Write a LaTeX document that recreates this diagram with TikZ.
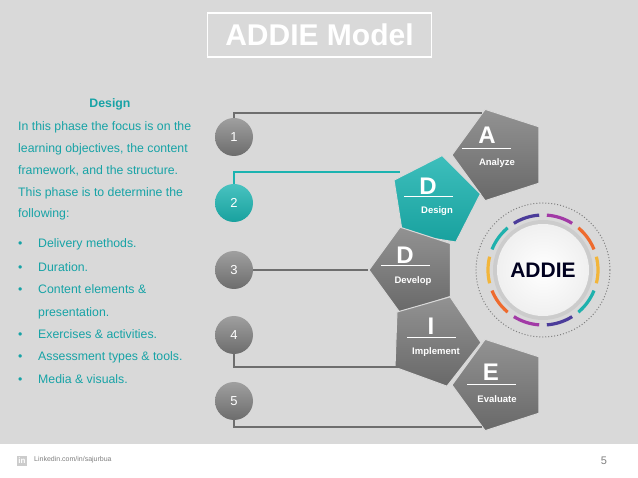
\documentclass[tikz,border=0pt]{standalone}
\usepackage{fontspec}
\setmainfont{Liberation Sans}
\usetikzlibrary{shapes.geometric}
\definecolor{bg}{HTML}{D9D9D9}
\definecolor{teal1}{HTML}{1BB3B0}
\definecolor{txtteal}{HTML}{17A3A6}
\definecolor{pg}{HTML}{7F7F7F}
\definecolor{ln}{HTML}{6E6E6E}
\definecolor{ringY}{HTML}{F2B53A}
\definecolor{ringO}{HTML}{EE6B2E}
\definecolor{ringM}{HTML}{A23AA6}
\definecolor{ringP}{HTML}{4B3C9A}
\definecolor{ringT}{HTML}{1FB1AD}
\tikzset{
 pent/.style={regular polygon, regular polygon sides=5, inner sep=0pt, minimum size=#1, draw=bg, line width=1pt, top color=pg!85, bottom color=ln!95!black},
 num/.style={circle, minimum size=38pt, inner sep=0pt, text=white, font=\fontsize{13}{13}\selectfont, top color=gray!75, bottom color=gray!85!black},
 conn/.style={draw=ln, line width=1.2pt},
 big/.style={text=white, font=\bfseries\fontsize{24}{24}\selectfont},
 lbl/.style={text=white, font=\bfseries\fontsize{9.5}{10}\selectfont},
 bar/.style={draw=white, line width=1pt},
 para/.style={anchor=west, text=txtteal, font=\fontsize{12.3}{14}\selectfont, inner sep=0pt, text height=9pt, text depth=3pt},
}
\begin{document}
\begin{tikzpicture}[x=1pt,y=-1pt]
\fill[bg] (0,0) rectangle (638,478);
\useasboundingbox (0,0) rectangle (638,478);
\fill[white] (0,444) rectangle (638,478);
% title
\node[draw=white, line width=1.2pt, minimum width=224pt, minimum height=44pt, text=white, font=\bfseries\fontsize{30}{30}\selectfont] (title) at (319.5,35) {ADDIE Model};
% left text
\node[text=txtteal, font=\bfseries\fontsize{12.3}{14}\selectfont] (hd) at (110,104) {Design};
\node[para] (p1) at (18,128) {In this phase the focus is on the};
\node[para] (p2) at (18,150) {learning objectives, the content};
\node[para] (p3) at (18,172) {framework, and the structure.};
\node[para] (p4) at (18,194) {This phase is to determine the};
\node[para] (p5) at (18,215) {following:};
\foreach \y/\t [count=\i] in {245/Delivery methods.,269/Duration.,291/Content elements \&,336/Exercises \& activities.,358/Assessment types \& tools.,381/Media \& visuals.}{
  \node[para] (b\i) at (18,\y) {•};
  \node[para] (bt\i) at (38,\y) {\t};
}
\node[para] (btx) at (38,314) {presentation.};
% connectors
\coordinate (a1) at (482,113);
\coordinate (a2) at (400,172);
\coordinate (a4) at (400,367);
\coordinate (a5) at (482,427);
% pentagons
\node[pent=96pt, shape border rotate=90] (A) at (500,155) {};
\node[pent=92pt, shape border rotate=-9, draw=bg, top color=teal1!85!white, bottom color=teal1!90!black] (D1) at (435,201) {};
\node[pent=90pt, shape border rotate=90] (D2) at (414,270) {};
\node[pent=94pt, shape border rotate=-20] (I) at (434,341) {};
\node[pent=96pt, shape border rotate=90] (E) at (500,385) {};
% numbers
\node[num] (n1) at (234,137) {1};
\node[num, top color=teal1!80!white, bottom color=teal1!90!black] (n2) at (234,203) {2};
\node[num] (n3) at (234,270) {3};
\node[num] (n4) at (234,335) {4};
\node[num] (n5) at (234,401) {5};
\draw[conn] (n1.north) |- (a1);
\draw[conn, draw=teal1] (n2.north) |- (a2);
\draw[conn] (n3.east) -- (D2.corner 1);
\draw[conn] (n4.south) |- (a4);
\draw[conn] (n5.south) |- (a5);
% labels
\node[big] (tA) at (487,135) {A}; \draw[bar] (462,149) -- (511,149); \node[lbl] (lA) at (497,163) {Analyze};
\node[big] (tD1) at (428,186) {D}; \draw[bar] (404,197) -- (453,197); \node[lbl] (lD1) at (437,211) {Design};
\node[big] (tD2) at (405,255) {D}; \draw[bar] (381,266) -- (430,266); \node[lbl] (lD2) at (413,281) {Develop};
\node[big] (tI) at (431,326) {I}; \draw[bar] (407,338) -- (456,338); \node[lbl] (lI) at (436,352) {Implement};
\node[big] (tE) at (491,372) {E}; \draw[bar] (467,385) -- (516,385); \node[lbl] (lE) at (497,399) {Evaluate};
% ADDIE circle
\coordinate (c) at (543,270);
\draw[gray, line width=1pt, dotted] (c) circle (67);
\foreach \a/\col in {0/ringY,-36/ringO,-72/ringM,-108/ringP,-144/ringT,180/ringY,144/ringO,108/ringM,72/ringP,36/ringT}{
  \draw[draw=\col, line width=3.2pt] ([shift={(\a-14:55)}]c) arc[start angle=\a-14, end angle=\a+14, radius=55];
}
\fill[gray!40] (c) circle (50);
\node[circle, minimum size=92pt, inner sep=0pt, inner color=white, outer color=gray!12, text=black!80!blue!60!black, font=\bfseries\fontsize{21}{21}\selectfont] (addie) at (c) {ADDIE};
% footer
\node[fill=gray!40, minimum size=10pt, inner sep=0pt, text=white, font=\bfseries\fontsize{8}{8}\selectfont] (li) at (22,461) {in};
\node[anchor=west, text=gray, font=\fontsize{7}{7}\selectfont, inner sep=0pt] (url) at (34,460) {Linkedin.com/in/sajurbua};
\node[text=gray, font=\fontsize{11}{11}\selectfont] (pg) at (604,461) {5};
\end{tikzpicture}
\end{document}
